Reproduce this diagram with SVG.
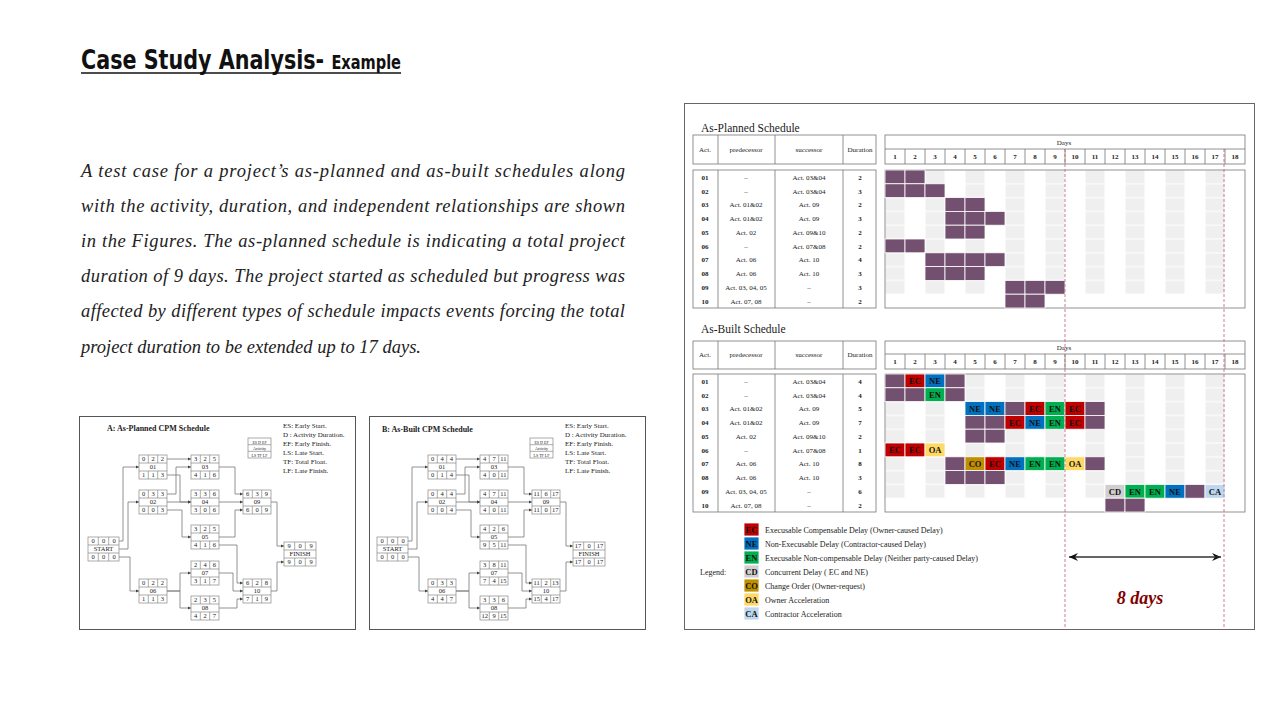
<svg xmlns="http://www.w3.org/2000/svg" xmlns:xlink="http://www.w3.org/1999/xlink" width="1280" height="720" viewBox="0 0 1280 720">
<defs>
<style>
.ser{font-family:"Liberation Serif","DejaVu Serif",serif;fill:#222}
.t7{font-size:7px}.t6{font-size:6.5px}.t8{font-size:8px}
.c{text-anchor:middle}.b{font-weight:bold}
.gl{fill:none;stroke:#777;stroke-width:0.8}
.P{fill:#735070;stroke:#fff;stroke-width:0.8}
.EC{fill:#c00000;stroke:#fff;stroke-width:0.8}
.NE{fill:#0070c0;stroke:#fff;stroke-width:0.8}
.EN{fill:#00b050;stroke:#fff;stroke-width:0.8}
.CD{fill:#d0cece;stroke:#fff;stroke-width:0.8}
.CO{fill:#bf8f00;stroke:#fff;stroke-width:0.8}
.OA{fill:#ffd966;stroke:#fff;stroke-width:0.8}
.CA{fill:#bdd7ee;stroke:#fff;stroke-width:0.8}
.lb{font-family:"Liberation Serif",serif;font-size:8.5px;font-weight:bold;text-anchor:middle;fill:#111}
.nd rect{fill:#fff;stroke:#888;stroke-width:0.7}
.nd line{stroke:#888;stroke-width:0.7}
.cn path{fill:none;stroke:#777;stroke-width:0.8;marker-end:url(#ah)}
.dash{stroke:#c06070;stroke-width:0.8;stroke-dasharray:3 2}
</style>
<pattern id="gp" x="885" y="170" width="40" height="13.8" patternUnits="userSpaceOnUse"><rect x="0.5" y="0.5" width="19" height="12.8" fill="#efefef"/></pattern>
<pattern id="gp2" x="885" y="374" width="40" height="13.8" patternUnits="userSpaceOnUse"><rect x="0.5" y="0.5" width="19" height="12.8" fill="#efefef"/></pattern>
<marker id="ah" markerWidth="5" markerHeight="5" refX="4" refY="2.5" orient="auto"><path d="M0,0.5 L4,2.5 L0,4.5z" fill="#444"/></marker>
<marker id="ah2" markerWidth="10" markerHeight="10" refX="9" refY="5" orient="auto"><path d="M0,1 L9,5 L0,9 L3,5z" fill="#111"/></marker>
<g id="cpmlinks" class="cn">
<path d="M119,541 H123 V467 H139"/><path d="M119,549 H128 V502 H139"/><path d="M119,557 H130 V591 H139"/>
<path d="M167,459 H191"/><path d="M167,475 H180 V502 H191"/><path d="M167,494 H176 V467 H191"/>
<path d="M167,502 H191"/><path d="M167,510 H182 V537 H191"/>
<path d="M219,467 H235 V494 H243"/><path d="M219,502 H243"/><path d="M219,537 H235 V510 H243"/>
<path d="M219,545 H237 V583 H243"/><path d="M167,591 H180 V573 H191"/><path d="M167,591 H180 V608 H191"/>
<path d="M219,573 H233 V591 H243"/><path d="M219,608 H237 V599 H243"/>
<path d="M271,502 H277 V546 H284"/><path d="M271,591 H277 V562 H284"/>
</g>
</defs>
<rect width="1280" height="720" fill="#fff"/>

<text x="81" y="69" font-family="'Liberation Sans Narrow','DejaVu Sans Condensed',sans-serif" font-weight="bold" font-size="27" textLength="320" lengthAdjust="spacingAndGlyphs" fill="#111">Case Study Analysis- <tspan font-size="19">Example</tspan></text>
<line x1="81" y1="73" x2="401" y2="73" stroke="#111" stroke-width="1.5"/>

<g font-family="'Liberation Serif',serif" font-style="italic" font-size="18.5" fill="#222">
<text x="81" y="177" textLength="544" lengthAdjust="spacing">A test case for a project’s as-planned and as-built schedules along</text>
<text x="81" y="212" textLength="544" lengthAdjust="spacing">with the activity, duration, and independent relationships are shown</text>
<text x="81" y="247" textLength="544" lengthAdjust="spacing">in the Figures. The as-planned schedule is indicating a total project</text>
<text x="81" y="282" textLength="544" lengthAdjust="spacing">duration of 9 days. The project started as scheduled but progress was</text>
<text x="81" y="317" textLength="544" lengthAdjust="spacing">affected by different types of schedule impacts events forcing the total</text>
<text x="81" y="353">project duration to be extended up to 17 days.</text>
</g>

<!-- CPM panel A -->
<g id="cpmA">
<rect x="79.5" y="416.5" width="276" height="213" fill="#fff" stroke="#555"/>
<text class="ser t8 b" x="107" y="431">A: As-Planned CPM Schedule</text>
<g class="ser t7"><text x="283" y="428">ES: Early Start.</text><text x="283" y="437">D  : Activity Duration.</text><text x="283" y="446">EF: Early Finish.</text><text x="283" y="455">LS: Late Start.</text><text x="283" y="464">TF: Total Float.</text><text x="283" y="473">LF: Late Finish.</text></g>
<g class="nd"><rect x="248" y="438" width="23" height="20"/><line x1="248" y1="444.7" x2="271" y2="444.7"/><line x1="248" y1="451.3" x2="271" y2="451.3"/></g>
<g class="ser c" font-size="4"><text x="259.5" y="443.5">ES  D  EF</text><text x="259.5" y="450">Activity</text><text x="259.5" y="456.5">LS TF LF</text></g>
<use xlink:href="#cpmlinks"/>
</g>
<g id="cpmB">
<rect x="369.5" y="416.5" width="276" height="213" fill="#fff" stroke="#555"/>
<text class="ser t8 b" x="382" y="432">B: As-Built CPM Schedule</text>
<g class="ser t7"><text x="565" y="428">ES: Early Start.</text><text x="565" y="437">D  : Activity Duration.</text><text x="565" y="446">EF: Early Finish.</text><text x="565" y="455">LS: Late Start.</text><text x="565" y="464">TF: Total Float.</text><text x="565" y="473">LF: Late Finish.</text></g>
<g class="nd"><rect x="530" y="438" width="23" height="20"/><line x1="530" y1="444.7" x2="553" y2="444.7"/><line x1="530" y1="451.3" x2="553" y2="451.3"/></g>
<g class="ser c" font-size="4"><text x="541.5" y="443.5">ES  D  EF</text><text x="541.5" y="450">Activity</text><text x="541.5" y="456.5">LS TF LF</text></g>
<use xlink:href="#cpmlinks" transform="translate(289,0)"/>
</g>

<!-- CPM nodes A -->
<g class="ser t6 c">
<g id="a-start" class="nd"><rect x="88" y="537" width="31" height="24"/><line x1="88" y1="545" x2="119" y2="545"/><line x1="88" y1="553" x2="119" y2="553"/><line x1="98.3" y1="537" x2="98.3" y2="545"/><line x1="108.7" y1="537" x2="108.7" y2="545"/><line x1="98.3" y1="553" x2="98.3" y2="561"/><line x1="108.7" y1="553" x2="108.7" y2="561"/><text x="93" y="543">0</text><text x="103.5" y="543">0</text><text x="114" y="543">0</text><text x="103.5" y="551">START</text><text x="93" y="559">0</text><text x="103.5" y="559">0</text><text x="114" y="559">0</text></g>
<g id="a-finish" class="nd"><rect x="284" y="542" width="32" height="24"/><line x1="284" y1="550" x2="316" y2="550"/><line x1="284" y1="558" x2="316" y2="558"/><line x1="294.7" y1="542" x2="294.7" y2="550"/><line x1="305.3" y1="542" x2="305.3" y2="550"/><line x1="294.7" y1="558" x2="294.7" y2="566"/><line x1="305.3" y1="558" x2="305.3" y2="566"/><text x="289" y="548">9</text><text x="300" y="548">0</text><text x="311" y="548">9</text><text x="300" y="556">FINISH</text><text x="289" y="564">9</text><text x="300" y="564">0</text><text x="311" y="564">9</text></g>
</g>
<g class="ser t6 c">
<g id="a01" class="nd" transform="translate(139,455)"><rect width="28" height="24"/><line x1="0" y1="8" x2="28" y2="8"/><line x1="0" y1="16" x2="28" y2="16"/><line x1="9.3" y1="0" x2="9.3" y2="8"/><line x1="18.7" y1="0" x2="18.7" y2="8"/><line x1="9.3" y1="16" x2="9.3" y2="24"/><line x1="18.7" y1="16" x2="18.7" y2="24"/><text x="4.7" y="6">0</text><text x="14" y="6">2</text><text x="23.3" y="6">2</text><text x="14" y="14">01</text><text x="4.7" y="22">1</text><text x="14" y="22">1</text><text x="23.3" y="22">3</text></g>
<g id="a02" class="nd" transform="translate(139,490)"><rect width="28" height="24"/><line x1="0" y1="8" x2="28" y2="8"/><line x1="0" y1="16" x2="28" y2="16"/><line x1="9.3" y1="0" x2="9.3" y2="8"/><line x1="18.7" y1="0" x2="18.7" y2="8"/><line x1="9.3" y1="16" x2="9.3" y2="24"/><line x1="18.7" y1="16" x2="18.7" y2="24"/><text x="4.7" y="6">0</text><text x="14" y="6">3</text><text x="23.3" y="6">3</text><text x="14" y="14">02</text><text x="4.7" y="22">0</text><text x="14" y="22">0</text><text x="23.3" y="22">3</text></g>
<g id="a06" class="nd" transform="translate(139,579)"><rect width="28" height="24"/><line x1="0" y1="8" x2="28" y2="8"/><line x1="0" y1="16" x2="28" y2="16"/><line x1="9.3" y1="0" x2="9.3" y2="8"/><line x1="18.7" y1="0" x2="18.7" y2="8"/><line x1="9.3" y1="16" x2="9.3" y2="24"/><line x1="18.7" y1="16" x2="18.7" y2="24"/><text x="4.7" y="6">0</text><text x="14" y="6">2</text><text x="23.3" y="6">2</text><text x="14" y="14">06</text><text x="4.7" y="22">1</text><text x="14" y="22">1</text><text x="23.3" y="22">3</text></g>
<g id="a03" class="nd" transform="translate(191,455)"><rect width="28" height="24"/><line x1="0" y1="8" x2="28" y2="8"/><line x1="0" y1="16" x2="28" y2="16"/><line x1="9.3" y1="0" x2="9.3" y2="8"/><line x1="18.7" y1="0" x2="18.7" y2="8"/><line x1="9.3" y1="16" x2="9.3" y2="24"/><line x1="18.7" y1="16" x2="18.7" y2="24"/><text x="4.7" y="6">3</text><text x="14" y="6">2</text><text x="23.3" y="6">5</text><text x="14" y="14">03</text><text x="4.7" y="22">4</text><text x="14" y="22">1</text><text x="23.3" y="22">6</text></g>
<g id="a04" class="nd" transform="translate(191,490)"><rect width="28" height="24"/><line x1="0" y1="8" x2="28" y2="8"/><line x1="0" y1="16" x2="28" y2="16"/><line x1="9.3" y1="0" x2="9.3" y2="8"/><line x1="18.7" y1="0" x2="18.7" y2="8"/><line x1="9.3" y1="16" x2="9.3" y2="24"/><line x1="18.7" y1="16" x2="18.7" y2="24"/><text x="4.7" y="6">3</text><text x="14" y="6">3</text><text x="23.3" y="6">6</text><text x="14" y="14">04</text><text x="4.7" y="22">3</text><text x="14" y="22">0</text><text x="23.3" y="22">6</text></g>
<g id="a05" class="nd" transform="translate(191,525)"><rect width="28" height="24"/><line x1="0" y1="8" x2="28" y2="8"/><line x1="0" y1="16" x2="28" y2="16"/><line x1="9.3" y1="0" x2="9.3" y2="8"/><line x1="18.7" y1="0" x2="18.7" y2="8"/><line x1="9.3" y1="16" x2="9.3" y2="24"/><line x1="18.7" y1="16" x2="18.7" y2="24"/><text x="4.7" y="6">3</text><text x="14" y="6">2</text><text x="23.3" y="6">5</text><text x="14" y="14">05</text><text x="4.7" y="22">4</text><text x="14" y="22">1</text><text x="23.3" y="22">6</text></g>
<g id="a07" class="nd" transform="translate(191,561)"><rect width="28" height="24"/><line x1="0" y1="8" x2="28" y2="8"/><line x1="0" y1="16" x2="28" y2="16"/><line x1="9.3" y1="0" x2="9.3" y2="8"/><line x1="18.7" y1="0" x2="18.7" y2="8"/><line x1="9.3" y1="16" x2="9.3" y2="24"/><line x1="18.7" y1="16" x2="18.7" y2="24"/><text x="4.7" y="6">2</text><text x="14" y="6">4</text><text x="23.3" y="6">6</text><text x="14" y="14">07</text><text x="4.7" y="22">3</text><text x="14" y="22">1</text><text x="23.3" y="22">7</text></g>
<g id="a08" class="nd" transform="translate(191,596)"><rect width="28" height="24"/><line x1="0" y1="8" x2="28" y2="8"/><line x1="0" y1="16" x2="28" y2="16"/><line x1="9.3" y1="0" x2="9.3" y2="8"/><line x1="18.7" y1="0" x2="18.7" y2="8"/><line x1="9.3" y1="16" x2="9.3" y2="24"/><line x1="18.7" y1="16" x2="18.7" y2="24"/><text x="4.7" y="6">2</text><text x="14" y="6">3</text><text x="23.3" y="6">5</text><text x="14" y="14">08</text><text x="4.7" y="22">4</text><text x="14" y="22">2</text><text x="23.3" y="22">7</text></g>
<g id="a09" class="nd" transform="translate(243,490)"><rect width="28" height="24"/><line x1="0" y1="8" x2="28" y2="8"/><line x1="0" y1="16" x2="28" y2="16"/><line x1="9.3" y1="0" x2="9.3" y2="8"/><line x1="18.7" y1="0" x2="18.7" y2="8"/><line x1="9.3" y1="16" x2="9.3" y2="24"/><line x1="18.7" y1="16" x2="18.7" y2="24"/><text x="4.7" y="6">6</text><text x="14" y="6">3</text><text x="23.3" y="6">9</text><text x="14" y="14">09</text><text x="4.7" y="22">6</text><text x="14" y="22">0</text><text x="23.3" y="22">9</text></g>
<g id="a10" class="nd" transform="translate(243,579)"><rect width="28" height="24"/><line x1="0" y1="8" x2="28" y2="8"/><line x1="0" y1="16" x2="28" y2="16"/><line x1="9.3" y1="0" x2="9.3" y2="8"/><line x1="18.7" y1="0" x2="18.7" y2="8"/><line x1="9.3" y1="16" x2="9.3" y2="24"/><line x1="18.7" y1="16" x2="18.7" y2="24"/><text x="4.7" y="6">6</text><text x="14" y="6">2</text><text x="23.3" y="6">8</text><text x="14" y="14">10</text><text x="4.7" y="22">7</text><text x="14" y="22">1</text><text x="23.3" y="22">9</text></g>
</g>
<!-- CPM nodes B -->
<g class="ser t6 c">
<g id="b-start" class="nd" transform="translate(289,0)"><rect x="88" y="537" width="31" height="24"/><line x1="88" y1="545" x2="119" y2="545"/><line x1="88" y1="553" x2="119" y2="553"/><line x1="98.3" y1="537" x2="98.3" y2="545"/><line x1="108.7" y1="537" x2="108.7" y2="545"/><line x1="98.3" y1="553" x2="98.3" y2="561"/><line x1="108.7" y1="553" x2="108.7" y2="561"/><text x="93" y="543">0</text><text x="103.5" y="543">0</text><text x="114" y="543">0</text><text x="103.5" y="551">START</text><text x="93" y="559">0</text><text x="103.5" y="559">0</text><text x="114" y="559">0</text></g>
<g id="b-finish" class="nd" transform="translate(289,0)"><rect x="284" y="542" width="32" height="24"/><line x1="284" y1="550" x2="316" y2="550"/><line x1="284" y1="558" x2="316" y2="558"/><line x1="294.7" y1="542" x2="294.7" y2="550"/><line x1="305.3" y1="542" x2="305.3" y2="550"/><line x1="294.7" y1="558" x2="294.7" y2="566"/><line x1="305.3" y1="558" x2="305.3" y2="566"/><text x="289" y="548">17</text><text x="300" y="548">0</text><text x="311" y="548">17</text><text x="300" y="556">FINISH</text><text x="289" y="564">17</text><text x="300" y="564">0</text><text x="311" y="564">17</text></g>
<g id="b01" class="nd" transform="translate(428,455)"><rect width="28" height="24"/><line x1="0" y1="8" x2="28" y2="8"/><line x1="0" y1="16" x2="28" y2="16"/><line x1="9.3" y1="0" x2="9.3" y2="8"/><line x1="18.7" y1="0" x2="18.7" y2="8"/><line x1="9.3" y1="16" x2="9.3" y2="24"/><line x1="18.7" y1="16" x2="18.7" y2="24"/><text x="4.7" y="6">0</text><text x="14" y="6">4</text><text x="23.3" y="6">4</text><text x="14" y="14">01</text><text x="4.7" y="22">0</text><text x="14" y="22">1</text><text x="23.3" y="22">4</text></g>
<g id="b02" class="nd" transform="translate(428,490)"><rect width="28" height="24"/><line x1="0" y1="8" x2="28" y2="8"/><line x1="0" y1="16" x2="28" y2="16"/><line x1="9.3" y1="0" x2="9.3" y2="8"/><line x1="18.7" y1="0" x2="18.7" y2="8"/><line x1="9.3" y1="16" x2="9.3" y2="24"/><line x1="18.7" y1="16" x2="18.7" y2="24"/><text x="4.7" y="6">0</text><text x="14" y="6">4</text><text x="23.3" y="6">4</text><text x="14" y="14">02</text><text x="4.7" y="22">0</text><text x="14" y="22">0</text><text x="23.3" y="22">4</text></g>
<g id="b06" class="nd" transform="translate(428,579)"><rect width="28" height="24"/><line x1="0" y1="8" x2="28" y2="8"/><line x1="0" y1="16" x2="28" y2="16"/><line x1="9.3" y1="0" x2="9.3" y2="8"/><line x1="18.7" y1="0" x2="18.7" y2="8"/><line x1="9.3" y1="16" x2="9.3" y2="24"/><line x1="18.7" y1="16" x2="18.7" y2="24"/><text x="4.7" y="6">0</text><text x="14" y="6">3</text><text x="23.3" y="6">3</text><text x="14" y="14">06</text><text x="4.7" y="22">4</text><text x="14" y="22">4</text><text x="23.3" y="22">7</text></g>
<g id="b03" class="nd" transform="translate(480,455)"><rect width="28" height="24"/><line x1="0" y1="8" x2="28" y2="8"/><line x1="0" y1="16" x2="28" y2="16"/><line x1="9.3" y1="0" x2="9.3" y2="8"/><line x1="18.7" y1="0" x2="18.7" y2="8"/><line x1="9.3" y1="16" x2="9.3" y2="24"/><line x1="18.7" y1="16" x2="18.7" y2="24"/><text x="4.7" y="6">4</text><text x="14" y="6">7</text><text x="23.3" y="6">11</text><text x="14" y="14">03</text><text x="4.7" y="22">4</text><text x="14" y="22">0</text><text x="23.3" y="22">11</text></g>
<g id="b04" class="nd" transform="translate(480,490)"><rect width="28" height="24"/><line x1="0" y1="8" x2="28" y2="8"/><line x1="0" y1="16" x2="28" y2="16"/><line x1="9.3" y1="0" x2="9.3" y2="8"/><line x1="18.7" y1="0" x2="18.7" y2="8"/><line x1="9.3" y1="16" x2="9.3" y2="24"/><line x1="18.7" y1="16" x2="18.7" y2="24"/><text x="4.7" y="6">4</text><text x="14" y="6">7</text><text x="23.3" y="6">11</text><text x="14" y="14">04</text><text x="4.7" y="22">4</text><text x="14" y="22">0</text><text x="23.3" y="22">11</text></g>
<g id="b05" class="nd" transform="translate(480,525)"><rect width="28" height="24"/><line x1="0" y1="8" x2="28" y2="8"/><line x1="0" y1="16" x2="28" y2="16"/><line x1="9.3" y1="0" x2="9.3" y2="8"/><line x1="18.7" y1="0" x2="18.7" y2="8"/><line x1="9.3" y1="16" x2="9.3" y2="24"/><line x1="18.7" y1="16" x2="18.7" y2="24"/><text x="4.7" y="6">4</text><text x="14" y="6">2</text><text x="23.3" y="6">6</text><text x="14" y="14">05</text><text x="4.7" y="22">9</text><text x="14" y="22">5</text><text x="23.3" y="22">11</text></g>
<g id="b07" class="nd" transform="translate(480,561)"><rect width="28" height="24"/><line x1="0" y1="8" x2="28" y2="8"/><line x1="0" y1="16" x2="28" y2="16"/><line x1="9.3" y1="0" x2="9.3" y2="8"/><line x1="18.7" y1="0" x2="18.7" y2="8"/><line x1="9.3" y1="16" x2="9.3" y2="24"/><line x1="18.7" y1="16" x2="18.7" y2="24"/><text x="4.7" y="6">3</text><text x="14" y="6">8</text><text x="23.3" y="6">11</text><text x="14" y="14">07</text><text x="4.7" y="22">7</text><text x="14" y="22">4</text><text x="23.3" y="22">15</text></g>
<g id="b08" class="nd" transform="translate(480,596)"><rect width="28" height="24"/><line x1="0" y1="8" x2="28" y2="8"/><line x1="0" y1="16" x2="28" y2="16"/><line x1="9.3" y1="0" x2="9.3" y2="8"/><line x1="18.7" y1="0" x2="18.7" y2="8"/><line x1="9.3" y1="16" x2="9.3" y2="24"/><line x1="18.7" y1="16" x2="18.7" y2="24"/><text x="4.7" y="6">3</text><text x="14" y="6">3</text><text x="23.3" y="6">6</text><text x="14" y="14">08</text><text x="4.7" y="22">12</text><text x="14" y="22">9</text><text x="23.3" y="22">15</text></g>
<g id="b09" class="nd" transform="translate(532,490)"><rect width="28" height="24"/><line x1="0" y1="8" x2="28" y2="8"/><line x1="0" y1="16" x2="28" y2="16"/><line x1="9.3" y1="0" x2="9.3" y2="8"/><line x1="18.7" y1="0" x2="18.7" y2="8"/><line x1="9.3" y1="16" x2="9.3" y2="24"/><line x1="18.7" y1="16" x2="18.7" y2="24"/><text x="4.7" y="6">11</text><text x="14" y="6">6</text><text x="23.3" y="6">17</text><text x="14" y="14">09</text><text x="4.7" y="22">11</text><text x="14" y="22">0</text><text x="23.3" y="22">17</text></g>
<g id="b10" class="nd" transform="translate(532,579)"><rect width="28" height="24"/><line x1="0" y1="8" x2="28" y2="8"/><line x1="0" y1="16" x2="28" y2="16"/><line x1="9.3" y1="0" x2="9.3" y2="8"/><line x1="18.7" y1="0" x2="18.7" y2="8"/><line x1="9.3" y1="16" x2="9.3" y2="24"/><line x1="18.7" y1="16" x2="18.7" y2="24"/><text x="4.7" y="6">11</text><text x="14" y="6">2</text><text x="23.3" y="6">13</text><text x="14" y="14">10</text><text x="4.7" y="22">15</text><text x="14" y="22">4</text><text x="23.3" y="22">17</text></g>
</g>

<!-- Right panel -->
<rect x="684.5" y="103.5" width="570" height="526" fill="#fff" stroke="#666"/>
<text class="ser" x="701" y="132" font-size="11.5">As-Planned Schedule</text>
<text class="ser" x="701" y="333" font-size="11.5">As-Built Schedule</text>

<!-- Planned tables -->
<g id="plan-table">
<rect class="gl" x="693" y="135" width="183" height="29"/><rect class="gl" x="693" y="170" width="183" height="138"/>
<path class="gl" d="M718,135V164M775,135V164M843,135V164M718,170V308M775,170V308M843,170V308"/>
<rect x="885" y="170" width="360" height="124" fill="url(#gp)"/>
<rect class="gl" x="885" y="135" width="360" height="29"/><rect class="gl" x="885" y="170" width="360" height="138"/>
<path class="gl" d="M885,149H1245M905,149V164M925,149V164M945,149V164M965,149V164M985,149V164M1005,149V164M1025,149V164M1045,149V164M1065,149V164M1085,149V164M1105,149V164M1125,149V164M1145,149V164M1165,149V164M1185,149V164M1205,149V164M1225,149V164"/>
<g class="ser t7 c"><text x="705" y="152">Act.</text><text x="746" y="152">predecessor</text><text x="809" y="152">successor</text><text x="860" y="152">Duration</text><text x="1064" y="145">Days</text></g>
<g class="ser t7 c b"><text x="895" y="159">1</text><text x="915" y="159">2</text><text x="935" y="159">3</text><text x="955" y="159">4</text><text x="975" y="159">5</text><text x="995" y="159">6</text><text x="1015" y="159">7</text><text x="1035" y="159">8</text><text x="1055" y="159">9</text><text x="1075" y="159">10</text><text x="1095" y="159">11</text><text x="1115" y="159">12</text><text x="1135" y="159">13</text><text x="1155" y="159">14</text><text x="1175" y="159">15</text><text x="1195" y="159">16</text><text x="1215" y="159">17</text><text x="1235" y="159">18</text></g>
<g class="ser t7 c b"><text x="705" y="180">01</text><text x="705" y="194">02</text><text x="705" y="207">03</text><text x="705" y="221">04</text><text x="705" y="235">05</text><text x="705" y="249">06</text><text x="705" y="262">07</text><text x="705" y="276">08</text><text x="705" y="290">09</text><text x="705" y="304">10</text>
<text x="860" y="180">2</text><text x="860" y="194">3</text><text x="860" y="207">2</text><text x="860" y="221">3</text><text x="860" y="235">2</text><text x="860" y="249">2</text><text x="860" y="262">4</text><text x="860" y="276">3</text><text x="860" y="290">3</text><text x="860" y="304">2</text></g>
<g class="ser t7 c"><text x="746" y="180">–</text><text x="746" y="194">–</text><text x="746" y="207">Act. 01&amp;02</text><text x="746" y="221">Act. 01&amp;02</text><text x="746" y="235">Act. 02</text><text x="746" y="249">–</text><text x="746" y="262">Act. 06</text><text x="746" y="276">Act. 06</text><text x="746" y="290">Act. 03, 04, 05</text><text x="746" y="304">Act. 07, 08</text>
<text x="809" y="180">Act. 03&amp;04</text><text x="809" y="194">Act. 03&amp;04</text><text x="809" y="207">Act. 09</text><text x="809" y="221">Act. 09</text><text x="809" y="235">Act. 09&amp;10</text><text x="809" y="249">Act. 07&amp;08</text><text x="809" y="262">Act. 10</text><text x="809" y="276">Act. 10</text><text x="809" y="290">–</text><text x="809" y="304">–</text></g>
<g>
<rect class="P" x="885" y="170" width="20" height="13.8"/><rect class="P" x="905" y="170" width="20" height="13.8"/>
<rect class="P" x="885" y="183.8" width="20" height="13.8"/><rect class="P" x="905" y="183.8" width="20" height="13.8"/><rect class="P" x="925" y="183.8" width="20" height="13.8"/>
<rect class="P" x="945" y="197.6" width="20" height="13.8"/><rect class="P" x="965" y="197.6" width="20" height="13.8"/>
<rect class="P" x="945" y="211.4" width="20" height="13.8"/><rect class="P" x="965" y="211.4" width="20" height="13.8"/><rect class="P" x="985" y="211.4" width="20" height="13.8"/>
<rect class="P" x="945" y="225.2" width="20" height="13.8"/><rect class="P" x="965" y="225.2" width="20" height="13.8"/>
<rect class="P" x="885" y="239" width="20" height="13.8"/><rect class="P" x="905" y="239" width="20" height="13.8"/>
<rect class="P" x="925" y="252.8" width="20" height="13.8"/><rect class="P" x="945" y="252.8" width="20" height="13.8"/><rect class="P" x="965" y="252.8" width="20" height="13.8"/><rect class="P" x="985" y="252.8" width="20" height="13.8"/>
<rect class="P" x="925" y="266.6" width="20" height="13.8"/><rect class="P" x="945" y="266.6" width="20" height="13.8"/><rect class="P" x="965" y="266.6" width="20" height="13.8"/>
<rect class="P" x="1005" y="280.4" width="20" height="13.8"/><rect class="P" x="1025" y="280.4" width="20" height="13.8"/><rect class="P" x="1045" y="280.4" width="20" height="13.8"/>
<rect class="P" x="1005" y="294.2" width="20" height="13.8"/><rect class="P" x="1025" y="294.2" width="20" height="13.8"/>
</g>
</g>

<!-- Built tables -->
<g id="built-table">
<rect class="gl" x="693" y="341" width="183" height="28"/><rect class="gl" x="693" y="374" width="183" height="138"/>
<path class="gl" d="M718,341V369M775,341V369M843,341V369M718,374V512M775,374V512M843,374V512"/>
<rect x="885" y="374" width="360" height="124" fill="url(#gp2)"/>
<rect class="gl" x="885" y="341" width="360" height="28"/><rect class="gl" x="885" y="374" width="360" height="138"/>
<path class="gl" d="M885,354H1245M905,354V369M925,354V369M945,354V369M965,354V369M985,354V369M1005,354V369M1025,354V369M1045,354V369M1065,354V369M1085,354V369M1105,354V369M1125,354V369M1145,354V369M1165,354V369M1185,354V369M1205,354V369M1225,354V369"/>
<g class="ser t7 c"><text x="705" y="357">Act.</text><text x="746" y="357">predecessor</text><text x="809" y="357">successor</text><text x="860" y="357">Duration</text><text x="1064" y="350">Days</text></g>
<g class="ser t7 c b"><text x="895" y="364">1</text><text x="915" y="364">2</text><text x="935" y="364">3</text><text x="955" y="364">4</text><text x="975" y="364">5</text><text x="995" y="364">6</text><text x="1015" y="364">7</text><text x="1035" y="364">8</text><text x="1055" y="364">9</text><text x="1075" y="364">10</text><text x="1095" y="364">11</text><text x="1115" y="364">12</text><text x="1135" y="364">13</text><text x="1155" y="364">14</text><text x="1175" y="364">15</text><text x="1195" y="364">16</text><text x="1215" y="364">17</text><text x="1235" y="364">18</text></g>
<g class="ser t7 c b"><text x="705" y="384">01</text><text x="705" y="398">02</text><text x="705" y="411">03</text><text x="705" y="425">04</text><text x="705" y="439">05</text><text x="705" y="453">06</text><text x="705" y="466">07</text><text x="705" y="480">08</text><text x="705" y="494">09</text><text x="705" y="508">10</text>
<text x="860" y="384">4</text><text x="860" y="398">4</text><text x="860" y="411">5</text><text x="860" y="425">7</text><text x="860" y="439">2</text><text x="860" y="453">1</text><text x="860" y="466">8</text><text x="860" y="480">3</text><text x="860" y="494">6</text><text x="860" y="508">2</text></g>
<g class="ser t7 c"><text x="746" y="384">–</text><text x="746" y="398">–</text><text x="746" y="411">Act. 01&amp;02</text><text x="746" y="425">Act. 01&amp;02</text><text x="746" y="439">Act. 02</text><text x="746" y="453">–</text><text x="746" y="466">Act. 06</text><text x="746" y="480">Act. 06</text><text x="746" y="494">Act. 03, 04, 05</text><text x="746" y="508">Act. 07, 08</text>
<text x="809" y="384">Act. 03&amp;04</text><text x="809" y="398">Act. 03&amp;04</text><text x="809" y="411">Act. 09</text><text x="809" y="425">Act. 09</text><text x="809" y="439">Act. 09&amp;10</text><text x="809" y="453">Act. 07&amp;08</text><text x="809" y="466">Act. 10</text><text x="809" y="480">Act. 10</text><text x="809" y="494">–</text><text x="809" y="508">–</text></g>
<g>
<rect class="P" x="885" y="374" width="20" height="13.8"/><rect class="EC" x="905" y="374" width="20" height="13.8"/><rect class="NE" x="925" y="374" width="20" height="13.8"/><rect class="P" x="945" y="374" width="20" height="13.8"/>
<rect class="P" x="885" y="387.8" width="20" height="13.8"/><rect class="P" x="905" y="387.8" width="20" height="13.8"/><rect class="EN" x="925" y="387.8" width="20" height="13.8"/><rect class="P" x="945" y="387.8" width="20" height="13.8"/>
<rect class="NE" x="965" y="401.6" width="20" height="13.8"/><rect class="NE" x="985" y="401.6" width="20" height="13.8"/><rect class="P" x="1005" y="401.6" width="20" height="13.8"/><rect class="EC" x="1025" y="401.6" width="20" height="13.8"/><rect class="EN" x="1045" y="401.6" width="20" height="13.8"/><rect class="EC" x="1065" y="401.6" width="20" height="13.8"/><rect class="P" x="1085" y="401.6" width="20" height="13.8"/>
<rect class="P" x="965" y="415.4" width="20" height="13.8"/><rect class="P" x="985" y="415.4" width="20" height="13.8"/><rect class="EC" x="1005" y="415.4" width="20" height="13.8"/><rect class="NE" x="1025" y="415.4" width="20" height="13.8"/><rect class="EN" x="1045" y="415.4" width="20" height="13.8"/><rect class="EC" x="1065" y="415.4" width="20" height="13.8"/><rect class="P" x="1085" y="415.4" width="20" height="13.8"/>
<rect class="P" x="965" y="429.2" width="20" height="13.8"/><rect class="P" x="985" y="429.2" width="20" height="13.8"/>
<rect class="EC" x="885" y="443" width="20" height="13.8"/><rect class="EC" x="905" y="443" width="20" height="13.8"/><rect class="OA" x="925" y="443" width="20" height="13.8"/>
<rect class="P" x="945" y="456.8" width="20" height="13.8"/><rect class="CO" x="965" y="456.8" width="20" height="13.8"/><rect class="EC" x="985" y="456.8" width="20" height="13.8"/><rect class="NE" x="1005" y="456.8" width="20" height="13.8"/><rect class="EN" x="1025" y="456.8" width="20" height="13.8"/><rect class="EN" x="1045" y="456.8" width="20" height="13.8"/><rect class="OA" x="1065" y="456.8" width="20" height="13.8"/><rect class="P" x="1085" y="456.8" width="20" height="13.8"/>
<rect class="P" x="945" y="470.6" width="20" height="13.8"/><rect class="P" x="965" y="470.6" width="20" height="13.8"/><rect class="P" x="985" y="470.6" width="20" height="13.8"/>
<rect class="CD" x="1105" y="484.4" width="20" height="13.8"/><rect class="EN" x="1125" y="484.4" width="20" height="13.8"/><rect class="EN" x="1145" y="484.4" width="20" height="13.8"/><rect class="NE" x="1165" y="484.4" width="20" height="13.8"/><rect class="P" x="1185" y="484.4" width="20" height="13.8"/><rect class="CA" x="1205" y="484.4" width="20" height="13.8"/>
<rect class="P" x="1105" y="498.2" width="20" height="13.8"/><rect class="P" x="1125" y="498.2" width="20" height="13.8"/>
</g>
<g class="lb">
<text x="915" y="384">EC</text><text x="935" y="384">NE</text><text x="935" y="398">EN</text>
<text x="975" y="411.5">NE</text><text x="995" y="411.5">NE</text><text x="1035" y="411.5">EC</text><text x="1055" y="411.5">EN</text><text x="1075" y="411.5">EC</text>
<text x="1015" y="425.5">EC</text><text x="1035" y="425.5">NE</text><text x="1055" y="425.5">EN</text><text x="1075" y="425.5">EC</text>
<text x="895" y="453">EC</text><text x="915" y="453">EC</text><text x="935" y="453">OA</text>
<text x="975" y="467">CO</text><text x="995" y="467">EC</text><text x="1015" y="467">NE</text><text x="1035" y="467">EN</text><text x="1055" y="467">EN</text><text x="1075" y="467">OA</text>
<text x="1115" y="494.5">CD</text><text x="1135" y="494.5">EN</text><text x="1155" y="494.5">EN</text><text x="1175" y="494.5">NE</text><text x="1215" y="494.5">CA</text>
</g>
</g>

<!-- dashed day markers -->
<line class="dash" x1="1065" y1="149" x2="1065" y2="629"/>
<line class="dash" x1="1224" y1="149" x2="1224" y2="629"/>

<!-- Legend -->
<g id="legend">
<text class="ser t8" x="700" y="575">Legend:</text>
<rect class="EC" x="744" y="523" width="15" height="13"/><rect class="NE" x="744" y="537" width="15" height="13"/><rect class="EN" x="744" y="551" width="15" height="13"/><rect class="CD" x="744" y="565" width="15" height="13"/><rect class="CO" x="744" y="579" width="15" height="13"/><rect class="OA" x="744" y="593" width="15" height="13"/><rect class="CA" x="744" y="607" width="15" height="13"/>
<g class="lb"><text x="751.5" y="533">EC</text><text x="751.5" y="547">NE</text><text x="751.5" y="561">EN</text><text x="751.5" y="575">CD</text><text x="751.5" y="589">CO</text><text x="751.5" y="603">OA</text><text x="751.5" y="617">CA</text></g>
<g class="ser t8"><text x="765" y="533">Execusable Compensable Delay (Owner-caused Delay)</text><text x="765" y="547">Non-Execusable Delay (Contractor-caused Delay)</text><text x="765" y="561">Execusable Non-compensable Delay (Neither party-caused Delay)</text><text x="765" y="575">Concurrent Delay ( EC and NE)</text><text x="765" y="589">Change Order (Owner-request)</text><text x="765" y="603">Owner Acceleration</text><text x="765" y="617">Contractor Acceleration</text></g>
</g>
<g id="span">
<line x1="1069" y1="557" x2="1221" y2="557" stroke="#333" stroke-width="1" marker-end="url(#ah2)"/>
<line x1="1221" y1="557" x2="1069" y2="557" stroke="#333" stroke-width="1" marker-end="url(#ah2)"/>
<text x="1140" y="604" font-family="'Liberation Serif',serif" font-weight="bold" font-style="italic" font-size="18" fill="#7f0000" text-anchor="middle">8 days</text>
</g>
</svg>
